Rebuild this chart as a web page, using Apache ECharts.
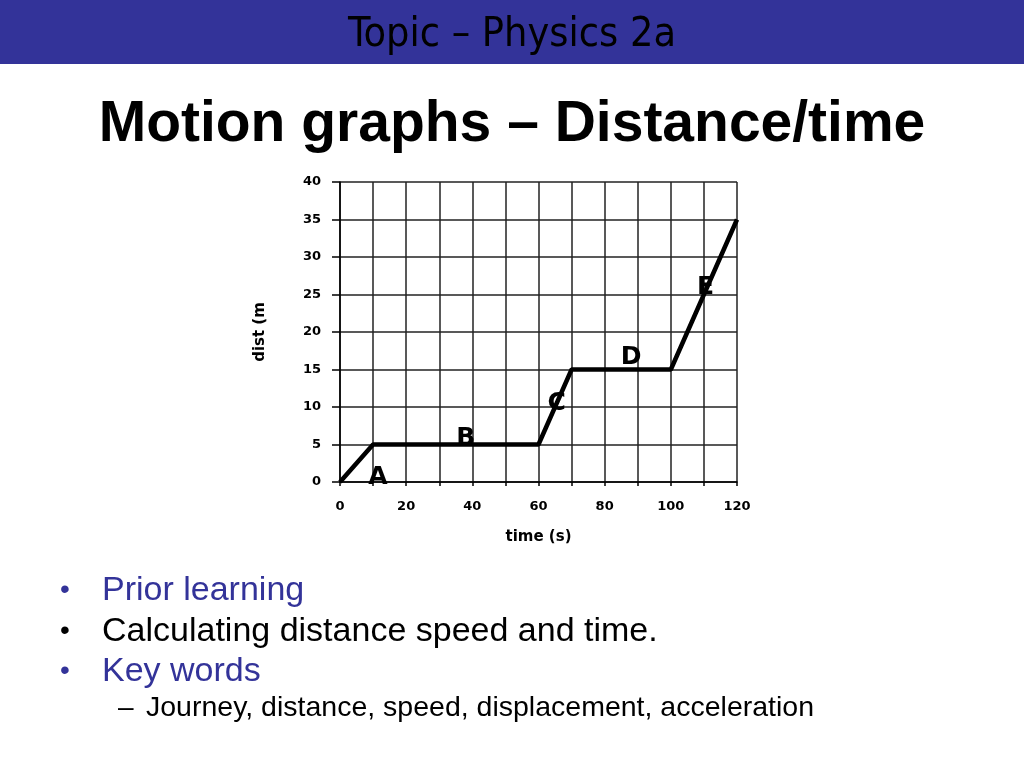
<!DOCTYPE html>
<html><head><meta charset="utf-8">
<script src="https://cdn.jsdelivr.net/npm/echarts@6/dist/echarts.min.js"></script>
<style>html,body{margin:0;padding:0;background:#fff}#c{width:1024px;height:768px}</style>
</head><body><div id="c"></div>
<script>
var timeValues = [0, 10, 60, 70, 100, 120];
var distValues = [0, 5, 5, 15, 15, 35];
var segmentNames = ['A', 'B', 'C', 'D', 'E'];
var segmentX = [11.5, 38, 65.5, 88, 110.5];
var segmentY = [0.6, 5.8, 10.5, 16.6, 25.9];
var xTicks = [0, 20, 40, 60, 80, 100, 120];
var yTicks = [0, 5, 10, 15, 20, 25, 30, 35, 40];

var chart = echarts.init(document.getElementById('c'));
var lineData = timeValues.map(function (t, i) { return [t, distValues[i]]; });
var labelData = segmentNames.map(function (n, i) { return { value: [segmentX[i], segmentY[i]], name: n }; });

chart.setOption({
  animation: false,
  backgroundColor: '#fff',
  grid: { left: 340, right: 287, top: 182, bottom: 286, containLabel: false },
  xAxis: {
    type: 'value', min: 0, max: 120, interval: 10,
    name: 'time (s)', nameLocation: 'middle', nameGap: 48,
    nameTextStyle: { fontFamily: 'DejaVu Sans', fontWeight: 'bold', fontSize: 15, color: '#000' },
    axisLine: { show: true, lineStyle: { color: '#000', width: 1.5 } },
    axisTick: { show: true, length: 4, lineStyle: { color: '#000', width: 1.5 } },
    axisLabel: {
      margin: 18, color: '#000', fontFamily: 'DejaVu Sans', fontWeight: 'bold', fontSize: 13,
      formatter: function (v) { return xTicks.indexOf(v) >= 0 ? String(v) : ''; }
    },
    splitLine: { show: true, lineStyle: { color: '#222', width: 1.5 } }
  },
  yAxis: {
    type: 'value', min: 0, max: 40, interval: 5,
    name: 'dist (m', nameLocation: 'middle', nameGap: 72, nameRotate: 90,
    nameTextStyle: { fontFamily: 'DejaVu Sans', fontWeight: 'bold', fontSize: 15, color: '#000' },
    axisLine: { show: true, lineStyle: { color: '#000', width: 1.5 } },
    axisTick: { show: true, length: 8, lineStyle: { color: '#000', width: 1.5 } },
    axisLabel: {
      margin: 19, color: '#000', fontFamily: 'DejaVu Sans', fontWeight: 'bold', fontSize: 13,
      formatter: function (v) { return yTicks.indexOf(v) >= 0 ? String(v) : ''; }
    },
    splitLine: { show: true, lineStyle: { color: '#222', width: 1.5 } }
  },
  series: [
    {
      type: 'line', data: lineData, symbol: 'none',
      lineStyle: { color: '#000', width: 4.5 }, z: 3
    },
    {
      type: 'scatter', data: labelData, symbolSize: 0, z: 4,
      itemStyle: { opacity: 1 },
      label: {
        show: true, position: 'inside', formatter: '{b}',
        fontFamily: 'DejaVu Sans', fontWeight: 'bold', fontSize: 25, color: '#000',
        textBorderWidth: 0
      }
    }
  ],
  graphic: [
    { type: 'rect', left: 0, top: 0, shape: { width: 1024, height: 64 }, style: { fill: '#333399' } },
    { type: 'text', left: 'center', top: 15, style: { text: 'Topic – Physics 2a', font: '41px "DejaVu Sans Condensed"', fill: '#000' } },
    { type: 'text', left: 'center', top: 97, style: { text: 'Motion graphs – Distance/time', font: 'bold 57px "Liberation Sans"', fill: '#000' } },
    { type: 'text', left: 60, top: 576, style: { text: '•', font: '28px "Liberation Sans"', fill: '#333399' } },
    { type: 'text', left: 102, top: 574, style: { text: 'Prior learning', font: '34px "Liberation Sans"', fill: '#333399' } },
    { type: 'text', left: 60, top: 617, style: { text: '•', font: '28px "Liberation Sans"', fill: '#000' } },
    { type: 'text', left: 102, top: 615, style: { text: 'Calculating distance speed and time.', font: '34px "Liberation Sans"', fill: '#000' } },
    { type: 'text', left: 60, top: 657, style: { text: '•', font: '28px "Liberation Sans"', fill: '#333399' } },
    { type: 'text', left: 102, top: 655, style: { text: 'Key words', font: '34px "Liberation Sans"', fill: '#333399' } },
    { type: 'text', left: 118, top: 694, style: { text: '–', font: '28px "Liberation Sans"', fill: '#000' } },
    { type: 'text', left: 146, top: 694, style: { text: 'Journey, distance, speed, displacement, acceleration', font: '28.5px "Liberation Sans"', fill: '#000' } }
  ]
});
</script></body></html>
